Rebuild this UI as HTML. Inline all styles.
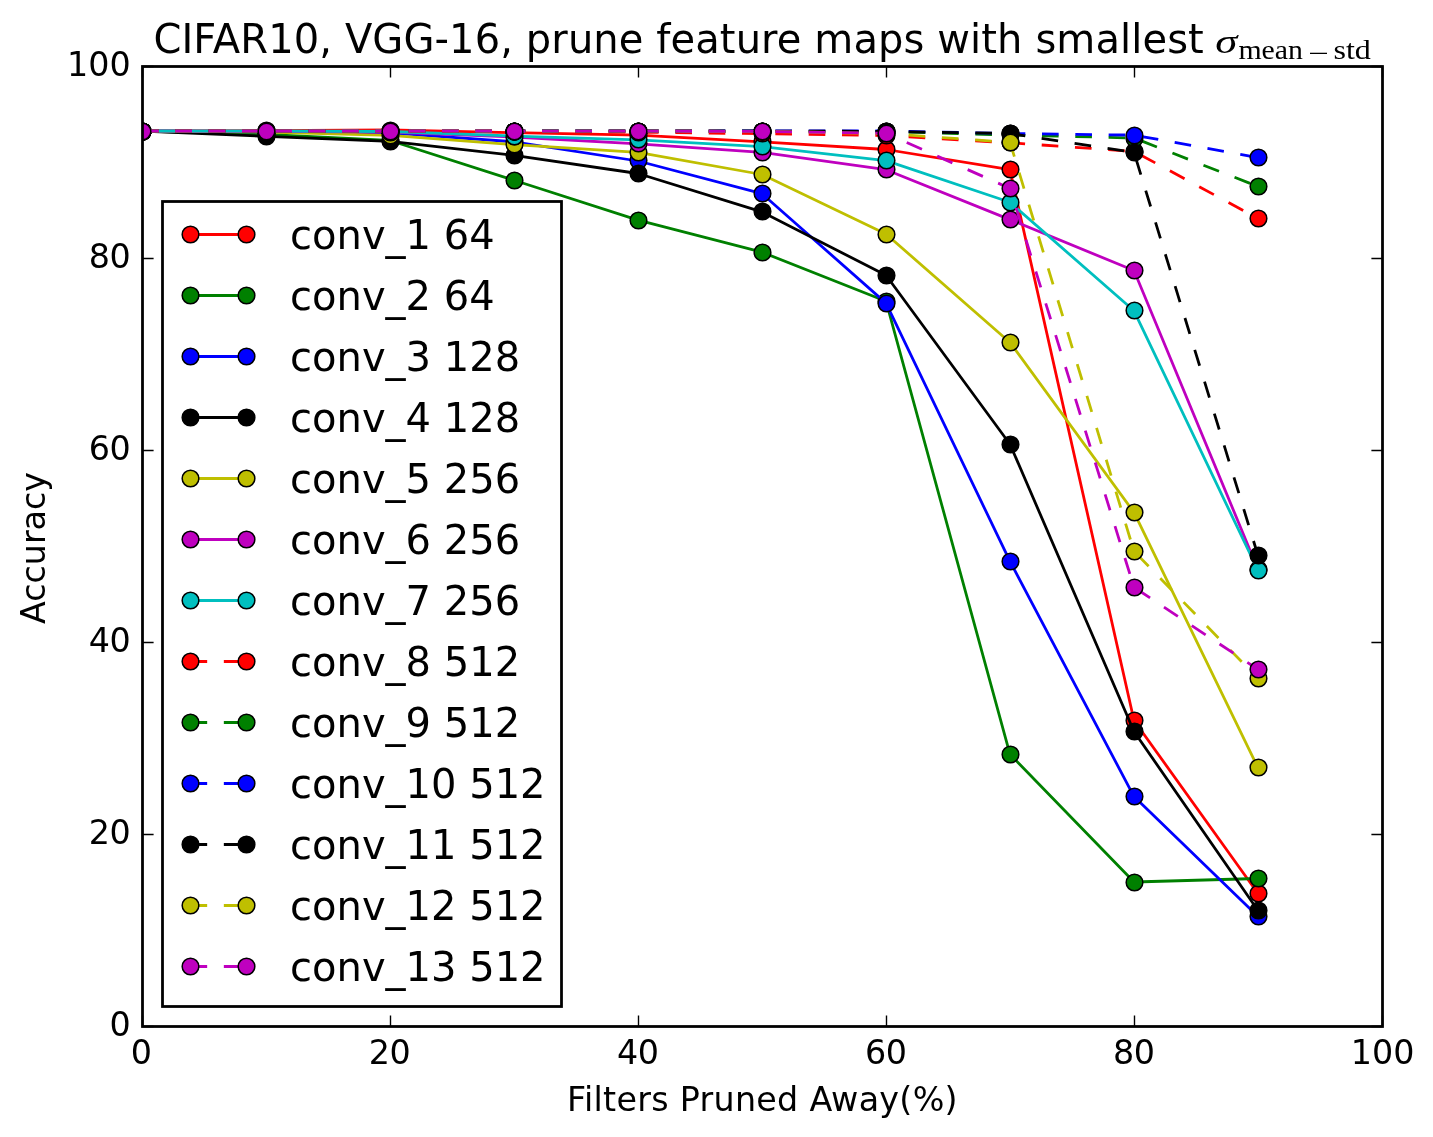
<!DOCTYPE html>
<html lang="en"><head><meta charset="utf-8"><title>CIFAR10, VGG-16, prune feature maps with smallest sigma mean-std</title>
<style>html,body{margin:0;padding:0;background:#fff}svg{display:block}text{font-family:"DejaVu Sans","Liberation Sans",sans-serif;fill:#000}.t{font-size:33.33px}.l{font-size:40.00px}.ms{font-family:"Liberation Serif","DejaVu Serif",serif}</style></head><body>
<svg width="1433" height="1137" viewBox="0 0 1433 1137">
<rect x="0" y="0" width="1433" height="1137" fill="#ffffff"/>
<defs><clipPath id="ax"><rect x="142.50" y="66.50" width="1240.00" height="960.00"/></clipPath></defs>
<g clip-path="url(#ax)">
<polyline points="142.00,131.00 266.00,130.70 390.00,130.00 514.00,132.70 638.00,135.10 762.00,141.80 886.00,149.50 1010.00,169.70 1134.00,720.50 1258.00,893.50" fill="none" stroke="#ff0000" stroke-width="2.78" stroke-linejoin="round" stroke-linecap="butt"/>
<g fill="#ff0000" stroke="#000" stroke-width="1.50"><circle cx="142.50" cy="131.50" r="8.33"/><circle cx="266.50" cy="130.50" r="8.33"/><circle cx="390.50" cy="130.50" r="8.33"/><circle cx="514.50" cy="132.50" r="8.33"/><circle cx="638.50" cy="135.50" r="8.33"/><circle cx="762.50" cy="141.50" r="8.33"/><circle cx="886.50" cy="149.50" r="8.33"/><circle cx="1010.50" cy="169.50" r="8.33"/><circle cx="1134.50" cy="720.50" r="8.33"/><circle cx="1258.50" cy="893.50" r="8.33"/></g>
<polyline points="142.00,131.00 266.00,134.40 390.00,140.50 514.00,180.20 638.00,220.10 762.00,252.20 886.00,301.20 1010.00,754.30 1134.00,882.00 1258.00,878.50" fill="none" stroke="#008000" stroke-width="2.78" stroke-linejoin="round" stroke-linecap="butt"/>
<g fill="#008000" stroke="#000" stroke-width="1.50"><circle cx="142.50" cy="131.50" r="8.33"/><circle cx="266.50" cy="134.50" r="8.33"/><circle cx="390.50" cy="140.50" r="8.33"/><circle cx="514.50" cy="180.50" r="8.33"/><circle cx="638.50" cy="220.50" r="8.33"/><circle cx="762.50" cy="252.50" r="8.33"/><circle cx="886.50" cy="301.50" r="8.33"/><circle cx="1010.50" cy="754.50" r="8.33"/><circle cx="1134.50" cy="882.50" r="8.33"/><circle cx="1258.50" cy="878.50" r="8.33"/></g>
<polyline points="142.00,131.00 266.00,132.00 390.00,132.90 514.00,141.80 638.00,161.00 762.00,193.70 886.00,303.10 1010.00,561.40 1134.00,796.60 1258.00,916.50" fill="none" stroke="#0000ff" stroke-width="2.78" stroke-linejoin="round" stroke-linecap="butt"/>
<g fill="#0000ff" stroke="#000" stroke-width="1.50"><circle cx="142.50" cy="131.50" r="8.33"/><circle cx="266.50" cy="132.50" r="8.33"/><circle cx="390.50" cy="132.50" r="8.33"/><circle cx="514.50" cy="141.50" r="8.33"/><circle cx="638.50" cy="160.50" r="8.33"/><circle cx="762.50" cy="193.50" r="8.33"/><circle cx="886.50" cy="303.50" r="8.33"/><circle cx="1010.50" cy="561.50" r="8.33"/><circle cx="1134.50" cy="796.50" r="8.33"/><circle cx="1258.50" cy="916.50" r="8.33"/></g>
<polyline points="142.00,131.00 266.00,136.30 390.00,141.30 514.00,155.30 638.00,173.50 762.00,211.90 886.00,275.30 1010.00,444.20 1134.00,731.50 1258.00,910.50" fill="none" stroke="#000000" stroke-width="2.78" stroke-linejoin="round" stroke-linecap="butt"/>
<g fill="#000000" stroke="#000" stroke-width="1.50"><circle cx="142.50" cy="131.50" r="8.33"/><circle cx="266.50" cy="136.50" r="8.33"/><circle cx="390.50" cy="141.50" r="8.33"/><circle cx="514.50" cy="155.50" r="8.33"/><circle cx="638.50" cy="173.50" r="8.33"/><circle cx="762.50" cy="211.50" r="8.33"/><circle cx="886.50" cy="275.50" r="8.33"/><circle cx="1010.50" cy="444.50" r="8.33"/><circle cx="1134.50" cy="731.50" r="8.33"/><circle cx="1258.50" cy="910.50" r="8.33"/></g>
<polyline points="142.00,131.00 266.00,132.00 390.00,135.40 514.00,144.70 638.00,152.40 762.00,174.50 886.00,234.00 1010.00,342.50 1134.00,512.40 1258.00,767.80" fill="none" stroke="#bfbf00" stroke-width="2.78" stroke-linejoin="round" stroke-linecap="butt"/>
<g fill="#bfbf00" stroke="#000" stroke-width="1.50"><circle cx="142.50" cy="131.50" r="8.33"/><circle cx="266.50" cy="132.50" r="8.33"/><circle cx="390.50" cy="135.50" r="8.33"/><circle cx="514.50" cy="144.50" r="8.33"/><circle cx="638.50" cy="152.50" r="8.33"/><circle cx="762.50" cy="174.50" r="8.33"/><circle cx="886.50" cy="234.50" r="8.33"/><circle cx="1010.50" cy="342.50" r="8.33"/><circle cx="1134.50" cy="512.50" r="8.33"/><circle cx="1258.50" cy="767.50" r="8.33"/></g>
<polyline points="142.00,131.00 266.00,131.30 390.00,132.20 514.00,137.00 638.00,143.80 762.00,152.40 886.00,169.70 1010.00,219.60 1134.00,270.50 1258.00,569.50" fill="none" stroke="#bf00bf" stroke-width="2.78" stroke-linejoin="round" stroke-linecap="butt"/>
<g fill="#bf00bf" stroke="#000" stroke-width="1.50"><circle cx="142.50" cy="131.50" r="8.33"/><circle cx="266.50" cy="131.50" r="8.33"/><circle cx="390.50" cy="132.50" r="8.33"/><circle cx="514.50" cy="136.50" r="8.33"/><circle cx="638.50" cy="143.50" r="8.33"/><circle cx="762.50" cy="152.50" r="8.33"/><circle cx="886.50" cy="169.50" r="8.33"/><circle cx="1010.50" cy="219.50" r="8.33"/><circle cx="1134.50" cy="270.50" r="8.33"/><circle cx="1258.50" cy="569.50" r="8.33"/></g>
<polyline points="142.00,131.00 266.00,131.00 390.00,131.50 514.00,136.10 638.00,139.90 762.00,146.60 886.00,160.60 1010.00,202.30 1134.00,310.80 1258.00,570.50" fill="none" stroke="#00bfbf" stroke-width="2.78" stroke-linejoin="round" stroke-linecap="butt"/>
<g fill="#00bfbf" stroke="#000" stroke-width="1.50"><circle cx="142.50" cy="131.50" r="8.33"/><circle cx="266.50" cy="131.50" r="8.33"/><circle cx="390.50" cy="131.50" r="8.33"/><circle cx="514.50" cy="136.50" r="8.33"/><circle cx="638.50" cy="139.50" r="8.33"/><circle cx="762.50" cy="146.50" r="8.33"/><circle cx="886.50" cy="160.50" r="8.33"/><circle cx="1010.50" cy="202.50" r="8.33"/><circle cx="1134.50" cy="310.50" r="8.33"/><circle cx="1258.50" cy="570.50" r="8.33"/></g>
<polyline points="142.00,131.00 266.00,131.00 390.00,131.00 514.00,131.30 638.00,132.20 762.00,133.70 886.00,135.60 1010.00,142.80 1134.00,151.40 1258.00,218.50" fill="none" stroke="#ff0000" stroke-width="2.78" stroke-linejoin="round" stroke-linecap="butt" stroke-dasharray="16.667 16.667"/>
<g fill="#ff0000" stroke="#000" stroke-width="1.50"><circle cx="142.50" cy="131.50" r="8.33"/><circle cx="266.50" cy="131.50" r="8.33"/><circle cx="390.50" cy="131.50" r="8.33"/><circle cx="514.50" cy="131.50" r="8.33"/><circle cx="638.50" cy="132.50" r="8.33"/><circle cx="762.50" cy="133.50" r="8.33"/><circle cx="886.50" cy="135.50" r="8.33"/><circle cx="1010.50" cy="142.50" r="8.33"/><circle cx="1134.50" cy="151.50" r="8.33"/><circle cx="1258.50" cy="218.50" r="8.33"/></g>
<polyline points="142.00,131.00 266.00,131.00 390.00,131.00 514.00,131.00 638.00,131.20 762.00,131.30 886.00,131.60 1010.00,135.00 1134.00,138.00 1258.00,186.50" fill="none" stroke="#008000" stroke-width="2.78" stroke-linejoin="round" stroke-linecap="butt" stroke-dasharray="16.667 16.667"/>
<g fill="#008000" stroke="#000" stroke-width="1.50"><circle cx="142.50" cy="131.50" r="8.33"/><circle cx="266.50" cy="131.50" r="8.33"/><circle cx="390.50" cy="131.50" r="8.33"/><circle cx="514.50" cy="131.50" r="8.33"/><circle cx="638.50" cy="131.50" r="8.33"/><circle cx="762.50" cy="131.50" r="8.33"/><circle cx="886.50" cy="131.50" r="8.33"/><circle cx="1010.50" cy="134.50" r="8.33"/><circle cx="1134.50" cy="138.50" r="8.33"/><circle cx="1258.50" cy="186.50" r="8.33"/></g>
<polyline points="142.00,131.00 266.00,131.00 390.00,131.00 514.00,131.00 638.00,131.00 762.00,131.00 886.00,131.00 1010.00,133.50 1134.00,135.10 1258.00,157.50" fill="none" stroke="#0000ff" stroke-width="2.78" stroke-linejoin="round" stroke-linecap="butt" stroke-dasharray="16.667 16.667"/>
<g fill="#0000ff" stroke="#000" stroke-width="1.50"><circle cx="142.50" cy="131.50" r="8.33"/><circle cx="266.50" cy="131.50" r="8.33"/><circle cx="390.50" cy="131.50" r="8.33"/><circle cx="514.50" cy="131.50" r="8.33"/><circle cx="638.50" cy="131.50" r="8.33"/><circle cx="762.50" cy="131.50" r="8.33"/><circle cx="886.50" cy="131.50" r="8.33"/><circle cx="1010.50" cy="133.50" r="8.33"/><circle cx="1134.50" cy="135.50" r="8.33"/><circle cx="1258.50" cy="157.50" r="8.33"/></g>
<polyline points="142.00,131.00 266.00,131.00 390.00,131.00 514.00,131.00 638.00,131.00 762.00,131.00 886.00,131.40 1010.00,133.50 1134.00,152.40 1258.00,555.50" fill="none" stroke="#000000" stroke-width="2.78" stroke-linejoin="round" stroke-linecap="butt" stroke-dasharray="16.667 16.667"/>
<g fill="#000000" stroke="#000" stroke-width="1.50"><circle cx="142.50" cy="131.50" r="8.33"/><circle cx="266.50" cy="131.50" r="8.33"/><circle cx="390.50" cy="131.50" r="8.33"/><circle cx="514.50" cy="131.50" r="8.33"/><circle cx="638.50" cy="131.50" r="8.33"/><circle cx="762.50" cy="131.50" r="8.33"/><circle cx="886.50" cy="131.50" r="8.33"/><circle cx="1010.50" cy="133.50" r="8.33"/><circle cx="1134.50" cy="152.50" r="8.33"/><circle cx="1258.50" cy="555.50" r="8.33"/></g>
<polyline points="142.00,131.00 266.00,131.00 390.00,131.00 514.00,131.00 638.00,131.20 762.00,131.30 886.00,133.60 1010.00,142.30 1134.00,551.30 1258.00,678.50" fill="none" stroke="#bfbf00" stroke-width="2.78" stroke-linejoin="round" stroke-linecap="butt" stroke-dasharray="16.667 16.667"/>
<g fill="#bfbf00" stroke="#000" stroke-width="1.50"><circle cx="142.50" cy="131.50" r="8.33"/><circle cx="266.50" cy="131.50" r="8.33"/><circle cx="390.50" cy="131.50" r="8.33"/><circle cx="514.50" cy="131.50" r="8.33"/><circle cx="638.50" cy="131.50" r="8.33"/><circle cx="762.50" cy="131.50" r="8.33"/><circle cx="886.50" cy="133.50" r="8.33"/><circle cx="1010.50" cy="142.50" r="8.33"/><circle cx="1134.50" cy="551.50" r="8.33"/><circle cx="1258.50" cy="678.50" r="8.33"/></g>
<polyline points="142.00,131.00 266.00,131.00 390.00,131.00 514.00,131.00 638.00,131.20 762.00,131.30 886.00,133.40 1010.00,188.40 1134.00,587.30 1258.00,669.50" fill="none" stroke="#bf00bf" stroke-width="2.78" stroke-linejoin="round" stroke-linecap="butt" stroke-dasharray="16.667 16.667"/>
<g fill="#bf00bf" stroke="#000" stroke-width="1.50"><circle cx="142.50" cy="131.50" r="8.33"/><circle cx="266.50" cy="131.50" r="8.33"/><circle cx="390.50" cy="131.50" r="8.33"/><circle cx="514.50" cy="131.50" r="8.33"/><circle cx="638.50" cy="131.50" r="8.33"/><circle cx="762.50" cy="131.50" r="8.33"/><circle cx="886.50" cy="133.50" r="8.33"/><circle cx="1010.50" cy="188.50" r="8.33"/><circle cx="1134.50" cy="587.50" r="8.33"/><circle cx="1258.50" cy="669.50" r="8.33"/></g>
</g>
<path d="M142.50 1026.50v-11.10M142.50 66.50v11.10M142.50 1026.50h11.10M1382.50 1026.50h-11.10M390.50 1026.50v-11.10M390.50 66.50v11.10M142.50 834.50h11.10M1382.50 834.50h-11.10M638.50 1026.50v-11.10M638.50 66.50v11.10M142.50 642.50h11.10M1382.50 642.50h-11.10M886.50 1026.50v-11.10M886.50 66.50v11.10M142.50 450.50h11.10M1382.50 450.50h-11.10M1134.50 1026.50v-11.10M1134.50 66.50v11.10M142.50 258.50h11.10M1382.50 258.50h-11.10M1382.50 1026.50v-11.10M1382.50 66.50v11.10M142.50 66.50h11.10M1382.50 66.50h-11.10" stroke="#000" stroke-width="1.39" fill="none"/>
<rect x="142.50" y="66.50" width="1240.00" height="960.00" fill="none" stroke="#000" stroke-width="2.78"/>
<text class="t" x="141.40" y="1063.90" text-anchor="middle">0</text>
<text class="t" x="130.70" y="1035.90" text-anchor="end">0</text>
<text class="t" x="389.70" y="1063.90" text-anchor="middle" textLength="42.0" lengthAdjust="spacing">20</text>
<text class="t" x="130.70" y="843.90" text-anchor="end" textLength="42.0" lengthAdjust="spacing">20</text>
<text class="t" x="638.00" y="1063.90" text-anchor="middle" textLength="42.0" lengthAdjust="spacing">40</text>
<text class="t" x="130.70" y="651.90" text-anchor="end" textLength="42.0" lengthAdjust="spacing">40</text>
<text class="t" x="886.00" y="1063.90" text-anchor="middle" textLength="42.0" lengthAdjust="spacing">60</text>
<text class="t" x="130.70" y="459.90" text-anchor="end" textLength="42.0" lengthAdjust="spacing">60</text>
<text class="t" x="1134.00" y="1063.90" text-anchor="middle" textLength="42.0" lengthAdjust="spacing">80</text>
<text class="t" x="130.70" y="267.90" text-anchor="end" textLength="42.0" lengthAdjust="spacing">80</text>
<text class="t" x="1382.60" y="1063.90" text-anchor="middle">100</text>
<text class="t" x="130.70" y="75.90" text-anchor="end">100</text>
<text class="t" x="567.00" y="1110.60" textLength="390.6" lengthAdjust="spacing">Filters Pruned Away(%)</text>
<text class="t" transform="translate(45.00 548.00) rotate(-90)" text-anchor="middle">Accuracy</text>
<text class="l" x="153.4" y="52.5" textLength="1050.4" lengthAdjust="spacing">CIFAR10, VGG-16, prune feature maps with smallest</text>
<text class="ms" x="1215.3" y="52.6" font-size="34.6" font-style="italic" textLength="22.1" lengthAdjust="spacingAndGlyphs">σ</text>
<text class="ms" x="1238.4" y="58.9" font-size="27.9" textLength="64.6" lengthAdjust="spacingAndGlyphs">mean</text>
<text class="ms" x="1308.6" y="61.5" font-size="26" textLength="20.6" lengthAdjust="spacingAndGlyphs">−</text>
<text class="ms" x="1333.4" y="58.9" font-size="27.9" textLength="37.5" lengthAdjust="spacingAndGlyphs">std</text>
<rect x="162.50" y="201.50" width="399.00" height="805.00" fill="#fff" stroke="#000" stroke-width="2.78"/>
<line x1="190.5" y1="234.50" x2="246.5" y2="234.50" stroke="#ff0000" stroke-width="2.78"/>
<g fill="#ff0000" stroke="#000" stroke-width="1.50"><circle cx="190.5" cy="234.50" r="8.33"/><circle cx="246.5" cy="234.50" r="8.33"/></g>
<text class="l" x="290.1" y="248.70">conv_1 64</text>
<line x1="190.5" y1="295.50" x2="246.5" y2="295.50" stroke="#008000" stroke-width="2.78"/>
<g fill="#008000" stroke="#000" stroke-width="1.50"><circle cx="190.5" cy="295.50" r="8.33"/><circle cx="246.5" cy="295.50" r="8.33"/></g>
<text class="l" x="290.1" y="309.70">conv_2 64</text>
<line x1="190.5" y1="356.50" x2="246.5" y2="356.50" stroke="#0000ff" stroke-width="2.78"/>
<g fill="#0000ff" stroke="#000" stroke-width="1.50"><circle cx="190.5" cy="356.50" r="8.33"/><circle cx="246.5" cy="356.50" r="8.33"/></g>
<text class="l" x="290.1" y="370.70">conv_3 128</text>
<line x1="190.5" y1="417.50" x2="246.5" y2="417.50" stroke="#000000" stroke-width="2.78"/>
<g fill="#000000" stroke="#000" stroke-width="1.50"><circle cx="190.5" cy="417.50" r="8.33"/><circle cx="246.5" cy="417.50" r="8.33"/></g>
<text class="l" x="290.1" y="431.70">conv_4 128</text>
<line x1="190.5" y1="478.50" x2="246.5" y2="478.50" stroke="#bfbf00" stroke-width="2.78"/>
<g fill="#bfbf00" stroke="#000" stroke-width="1.50"><circle cx="190.5" cy="478.50" r="8.33"/><circle cx="246.5" cy="478.50" r="8.33"/></g>
<text class="l" x="290.1" y="492.70">conv_5 256</text>
<line x1="190.5" y1="539.50" x2="246.5" y2="539.50" stroke="#bf00bf" stroke-width="2.78"/>
<g fill="#bf00bf" stroke="#000" stroke-width="1.50"><circle cx="190.5" cy="539.50" r="8.33"/><circle cx="246.5" cy="539.50" r="8.33"/></g>
<text class="l" x="290.1" y="553.70">conv_6 256</text>
<line x1="190.5" y1="600.50" x2="246.5" y2="600.50" stroke="#00bfbf" stroke-width="2.78"/>
<g fill="#00bfbf" stroke="#000" stroke-width="1.50"><circle cx="190.5" cy="600.50" r="8.33"/><circle cx="246.5" cy="600.50" r="8.33"/></g>
<text class="l" x="290.1" y="614.70">conv_7 256</text>
<line x1="190.5" y1="661.50" x2="246.5" y2="661.50" stroke="#ff0000" stroke-width="2.78" stroke-dasharray="16.667 16.667"/>
<g fill="#ff0000" stroke="#000" stroke-width="1.50"><circle cx="190.5" cy="661.50" r="8.33"/><circle cx="246.5" cy="661.50" r="8.33"/></g>
<text class="l" x="290.1" y="675.70">conv_8 512</text>
<line x1="190.5" y1="722.50" x2="246.5" y2="722.50" stroke="#008000" stroke-width="2.78" stroke-dasharray="16.667 16.667"/>
<g fill="#008000" stroke="#000" stroke-width="1.50"><circle cx="190.5" cy="722.50" r="8.33"/><circle cx="246.5" cy="722.50" r="8.33"/></g>
<text class="l" x="290.1" y="736.70">conv_9 512</text>
<line x1="190.5" y1="783.50" x2="246.5" y2="783.50" stroke="#0000ff" stroke-width="2.78" stroke-dasharray="16.667 16.667"/>
<g fill="#0000ff" stroke="#000" stroke-width="1.50"><circle cx="190.5" cy="783.50" r="8.33"/><circle cx="246.5" cy="783.50" r="8.33"/></g>
<text class="l" x="290.1" y="797.70">conv_10 512</text>
<line x1="190.5" y1="844.50" x2="246.5" y2="844.50" stroke="#000000" stroke-width="2.78" stroke-dasharray="16.667 16.667"/>
<g fill="#000000" stroke="#000" stroke-width="1.50"><circle cx="190.5" cy="844.50" r="8.33"/><circle cx="246.5" cy="844.50" r="8.33"/></g>
<text class="l" x="290.1" y="858.70">conv_11 512</text>
<line x1="190.5" y1="905.50" x2="246.5" y2="905.50" stroke="#bfbf00" stroke-width="2.78" stroke-dasharray="16.667 16.667"/>
<g fill="#bfbf00" stroke="#000" stroke-width="1.50"><circle cx="190.5" cy="905.50" r="8.33"/><circle cx="246.5" cy="905.50" r="8.33"/></g>
<text class="l" x="290.1" y="919.70">conv_12 512</text>
<line x1="190.5" y1="966.50" x2="246.5" y2="966.50" stroke="#bf00bf" stroke-width="2.78" stroke-dasharray="16.667 16.667"/>
<g fill="#bf00bf" stroke="#000" stroke-width="1.50"><circle cx="190.5" cy="966.50" r="8.33"/><circle cx="246.5" cy="966.50" r="8.33"/></g>
<text class="l" x="290.1" y="980.70">conv_13 512</text>
</svg></body></html>
